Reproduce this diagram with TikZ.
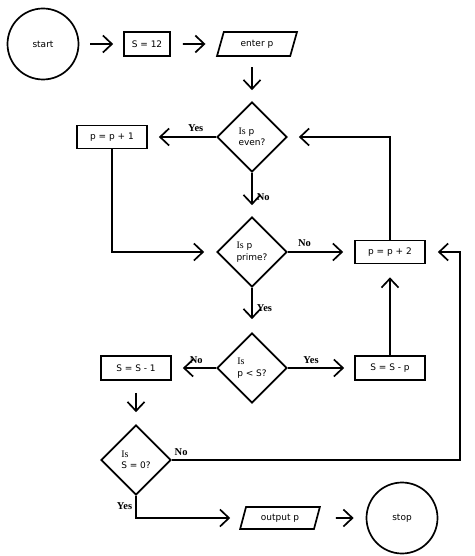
\documentclass[tikz,border=0pt]{standalone}
\usepackage{fontspec}
\setmainfont{DejaVu Sans}
\newfontfamily\serifIs{Liberation Serif}
\usetikzlibrary{shapes.geometric,arrows.meta,calc}
\begin{document}
\begin{tikzpicture}[x=1pt,y=-1pt,line width=1.7pt,
  every node/.style={font=\fontsize{9}{11.5}\selectfont},
  ar/.style={-{Straight Barb[length=9pt,width=17pt]}},
  box/.style={draw,rectangle,minimum width=70pt,minimum height=23pt,inner sep=0pt},
  term/.style={draw,circle,minimum size=71pt,inner sep=0pt},
  io/.style={draw,trapezium,trapezium left angle=68,trapezium right angle=112,trapezium stretches=true,minimum width=80pt,minimum height=23pt,inner sep=0pt},
  dec/.style={draw,diamond,minimum width=70pt,minimum height=70pt,inner sep=0pt,align=left},
  lbl/.style={font=\serifIs\bfseries\fontsize{10.5}{12}\selectfont,inner sep=0pt}]
\useasboundingbox (0,0) rectangle (474,556);

\node[term] (start) at (43,44) {start};
\node[box,minimum width=46pt,minimum height=24pt] (s12) at (147,44) {S = 12};
\node[io,minimum height=24pt] (enter) at (257,44) {enter p};
\node[dec] (even) at (252,137) {{\serifIs\fontsize{10}{11.5}\selectfont Is} p\\even?};
\node[box] (p1) at (112,137) {p = p + 1};
\node[dec] (prime) at (252,252) {{\serifIs\fontsize{10}{11.5}\selectfont Is} p\\prime?};
\node[box] (p2) at (390,252) {p = p + 2};
\node[dec] (lt) at (252,368) {{\serifIs\fontsize{10}{11.5}\selectfont Is}\\p < S?};
\node[box,minimum height=24pt] (s1) at (136,368) {S = S - 1};
\node[box,minimum height=24pt] (sp) at (390,368) {S = S - p};
\node[dec] (s0) at (136,460) {{\serifIs\fontsize{10}{11.5}\selectfont Is}\\S = 0?};
\node[io,minimum height=22pt] (out) at (280,518) {output p};
\node[term] (stop) at (402,518) {stop};
\coordinate (rc) at (460,252);

\draw[ar] ([xshift=11pt]start.east) -- ([xshift=-10pt]s12.west);
\draw[ar] ([xshift=12pt]s12.east) -- ([xshift=-14pt]enter.west);
\draw[ar] ([yshift=34pt]even.north) -- ([yshift=11pt]even.north);
\draw[ar,shorten >=11pt] (even.west) -- (p1.east) node[lbl,pos=0.3,above=5pt] {Yes};
\draw[ar,shorten >=12pt] (p1.south) |- (prime.west);
\draw[ar,shorten >=11pt] (even.south) -- (prime.north) node[lbl,pos=0.55,right=4pt] {No};
\draw[ar,shorten >=11pt] (prime.east) -- (p2.west) node[lbl,pos=0.25,above=5pt] {No};
\draw[ar,shorten >=11pt] (p2.north) |- (even.east);
\draw[ar,shorten >=13pt] (prime.south) -- (lt.north) node[lbl,pos=0.45,right=4pt] {Yes};
\draw[ar,shorten >=11pt] (lt.west) -- (s1.east) node[lbl,pos=0.45,above=4pt] {No};
\draw[ar,shorten >=10pt] (lt.east) -- (sp.west) node[lbl,pos=0.35,above=4pt] {Yes};
\draw[ar,shorten >=13pt] (sp.north) -- (p2.south);
\draw[ar] ([yshift=-12pt]s1.south) -- ([yshift=12pt]s0.north);
\draw[ar,shorten >=12pt] (s0.east) -| (rc) -- (p2.east);
\node[lbl,anchor=south west] at ([xshift=2pt,yshift=4pt]s0.east) {No};
\draw[ar,shorten >=12pt] (s0.south) |- (out.west);
\node[lbl,anchor=east] at ([xshift=-3pt,yshift=-10pt]s0.south) {Yes};
\draw[ar] ([xshift=18pt]out.east) -- ([xshift=-12pt]stop.west);
\end{tikzpicture}
\end{document}
